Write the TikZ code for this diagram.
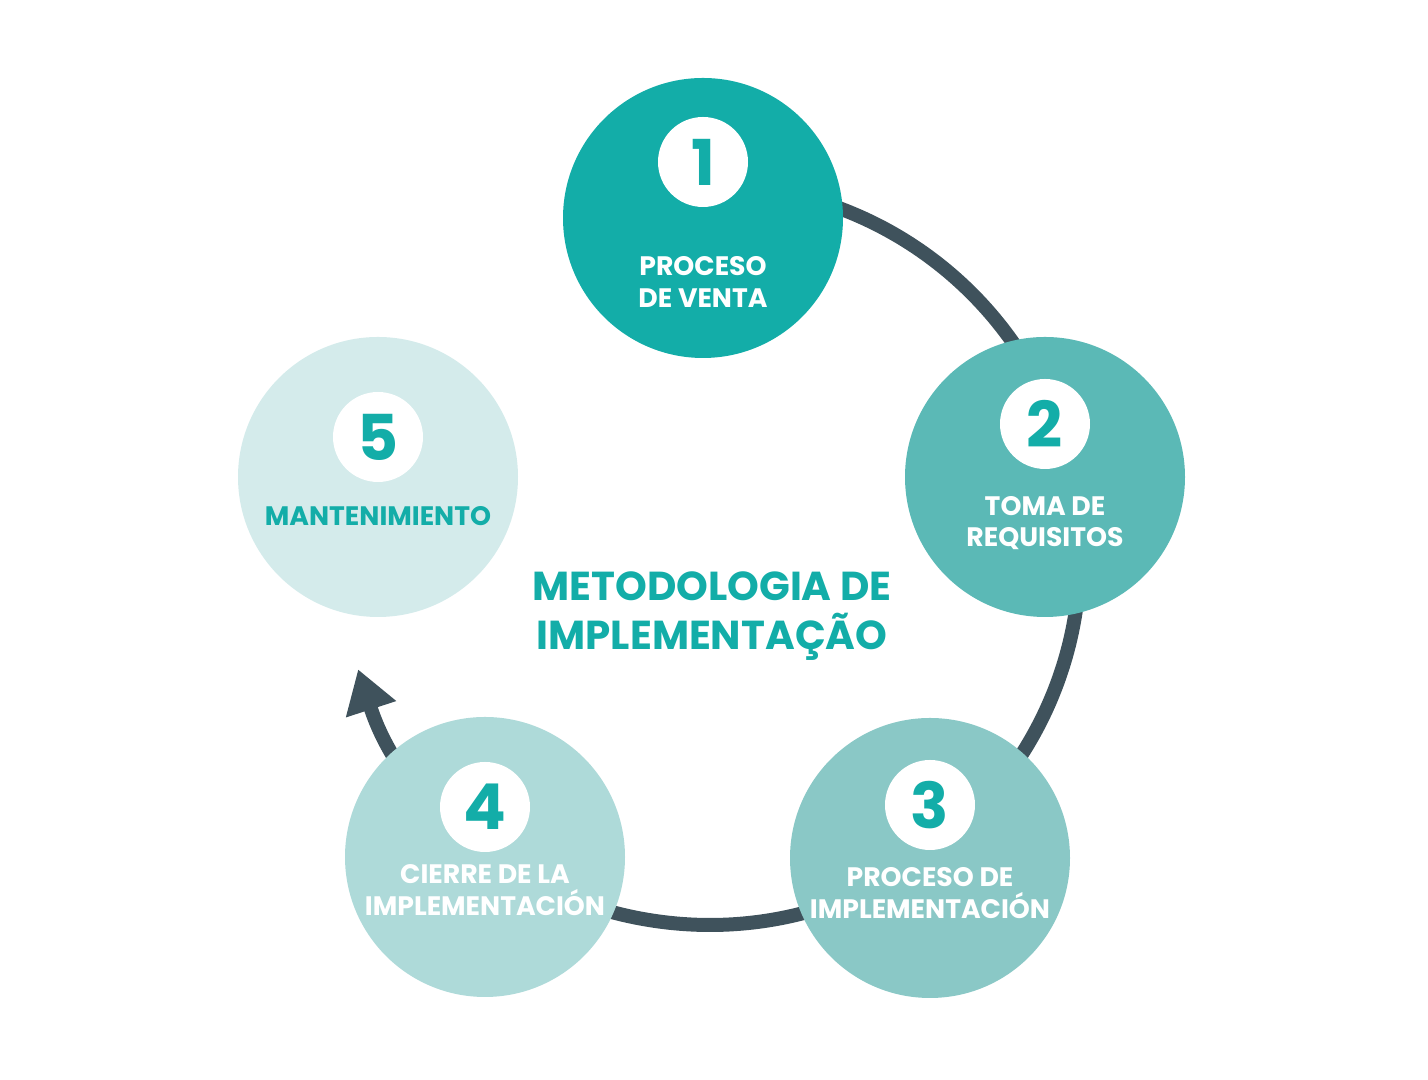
\documentclass[tikz,border=0pt]{standalone}
\usepackage{fontspec}
\setmainfont{Poppins}
\usetikzlibrary{arrows.meta}
\definecolor{c1}{HTML}{13ADA8}
\definecolor{c2}{HTML}{5BB9B6}
\definecolor{c3}{HTML}{8AC8C6}
\definecolor{c4}{HTML}{AEDAD9}
\definecolor{c5}{HTML}{D4EBEB}
\definecolor{ring}{HTML}{3F525C}
\definecolor{tealtxt}{HTML}{13ADA8}
\tikzset{
 stage/.style={circle,minimum size=2.8cm,inner sep=0pt},
 badge/.style={circle,fill=white,minimum size=0.9cm,inner sep=0pt,font=\fontsize{18}{18}\selectfont\bfseries,text=tealtxt},
 lbl/.style={align=center,font=\fontsize{7.6}{9}\selectfont\bfseries,text=white},
}
\begin{document}
\begin{tikzpicture}
\useasboundingbox (0,0) rectangle (14.28,10.8);
\coordinate (cen) at (7.10,5.25);
\draw[ring,line width=0.14cm,-{Triangle[length=0.42cm,width=0.5cm]}] ([shift={(90:3.7)}]cen) arc[start angle=90,end angle=-162,radius=3.7];
\node[stage,fill=c1] (s1) at (7.03,8.62) {};
\node[stage,fill=c2] (s2) at (10.45,6.03) {};
\node[stage,fill=c3] (s3) at (9.30,2.22) {};
\node[stage,fill=c4] (s4) at (4.85,2.23) {};
\node[stage,fill=c5] (s5) at (3.78,6.03) {};
\node[badge] (b1) at (7.03,9.18) {1};
\node[badge] (b2) at (10.45,6.56) {2};
\node[badge] (b3) at (9.30,2.75) {3};
\node[badge] (b4) at (4.85,2.73) {4};
\node[badge] (b5) at (3.78,6.43) {5};
\node[lbl] (l1) at (7.03,7.98) {PROCESO\\DE VENTA};
\node[lbl] (l2) at (10.45,5.57) {TOMA DE\\REQUISITOS};
\node[lbl] (l3) at (9.30,1.87) {PROCESO DE\\IMPLEMENTACIÓN};
\node[lbl] (l4) at (4.85,1.90) {CIERRE DE LA\\IMPLEMENTACIÓN};
\node[lbl,text=tealtxt] (l5) at (3.78,5.64) {MANTENIMIENTO};
\node[align=center,text=tealtxt,font=\fontsize{11.5}{14}\selectfont\bfseries] (t) at (7.12,4.64) {METODOLOGIA DE\\IMPLEMENTAÇÃO};
\end{tikzpicture}
\end{document}
